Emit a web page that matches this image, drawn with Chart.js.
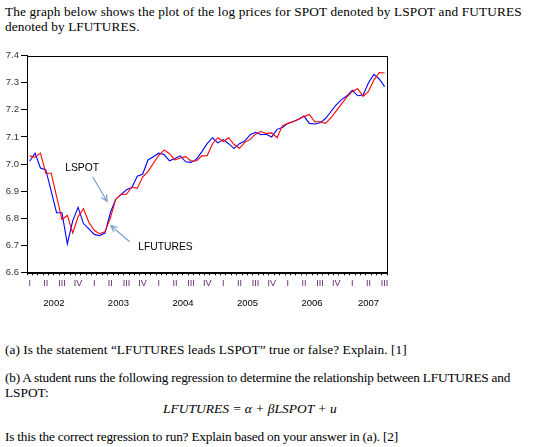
<!DOCTYPE html>
<html>
<head>
<meta charset="utf-8">
<script src="https://cdn.jsdelivr.net/npm/chart.js@4.4.1/dist/chart.umd.min.js"></script>
<style>
  body { margin: 0; background: #fff; width: 548px; height: 447px; overflow: hidden; position: relative; }
  .txt { position: absolute; left: 5px; font-family: "Liberation Serif", "Times New Roman", serif; font-size: 13.3px; color: #000; white-space: nowrap; line-height: 15px; }
  .eq { position: absolute; font-family: "Liberation Serif", serif; font-style: italic; font-size: 13.5px; white-space: nowrap; }
  #wrap { position: absolute; left: 0; top: 45px; width: 395px; height: 265px; }
</style>
</head>
<body>
<div class="txt" style="top:4px; letter-spacing:0.14px">The graph below shows the plot of the log prices for SPOT denoted by LSPOT and FUTURES</div>
<div class="txt" style="top:19px; letter-spacing:0.1px">denoted by LFUTURES.</div>
<div id="wrap"><canvas id="chart"></canvas></div>
<div class="txt" style="top:342px; letter-spacing:0.05px">(a) Is the statement “LFUTURES leads LSPOT” true or false? Explain. [1]</div>
<div class="txt" style="top:370px; letter-spacing:-0.2px">(b) A student runs the following regression to determine the relationship between LFUTURES and</div>
<div class="txt" style="top:385px">LSPOT:</div>
<div class="eq" style="left:163px; top:401px">LFUTURES = α + βLSPOT + u</div>
<div class="txt" style="top:429px; letter-spacing:-0.19px">Is this the correct regression to run? Explain based on your answer in (a). [2]</div>

<script>
// monthly data, Jan 2002 - Jul 2007
const years = [2002, 2003, 2004, 2005, 2006, 2007];
const quarterNames = ['I', 'II', 'III', 'IV'];
const monthsInLastYear = 7;

const lspot = [
  7.010, 7.040, 6.985, 6.978, 6.900, 6.820, 6.820, 6.705, 6.790, 6.840,
  6.780, 6.760, 6.740, 6.735, 6.745, 6.820, 6.870, 6.888, 6.905, 6.913,
  6.955, 6.962, 7.015, 7.027, 7.040, 7.035, 7.012, 7.020, 7.030, 7.008,
  7.006, 7.018, 7.045, 7.075, 7.097, 7.078, 7.090, 7.075, 7.057, 7.075,
  7.085, 7.108, 7.117, 7.108, 7.110, 7.100, 7.128, 7.135, 7.150, 7.157,
  7.165, 7.177, 7.150, 7.148, 7.152, 7.168, 7.193, 7.218, 7.238, 7.252,
  7.272, 7.252, 7.255, 7.300, 7.331, 7.314, 7.286
];
const lfutures = [
  7.030, 7.025, 7.040, 6.966, 6.966, 6.880, 6.795, 6.810, 6.745, 6.805,
  6.835, 6.785, 6.755, 6.742, 6.750, 6.800, 6.870, 6.888, 6.888, 6.915,
  6.910, 6.952, 6.972, 7.003, 7.032, 7.052, 7.038, 7.015, 7.022, 7.027,
  7.011, 7.011, 7.030, 7.031, 7.075, 7.097, 7.083, 7.097, 7.072, 7.058,
  7.080, 7.091, 7.110, 7.120, 7.113, 7.115, 7.097, 7.142, 7.150, 7.156,
  7.165, 7.175, 7.183, 7.156, 7.156, 7.150, 7.170, 7.196, 7.222, 7.248,
  7.268, 7.278, 7.250, 7.268, 7.310, 7.338, 7.336
];

// month labels
const months = [];
years.forEach((y, k) => {
  const n = k === years.length - 1 ? monthsInLastYear : 12;
  for (let m = 1; m <= n; m++) months.push(y + 'M' + String(m).padStart(2, '0'));
});

// where the year label sits (in month index units)
const yearTicks = years.map((y, k) => {
  const first = k * 12;
  const last = Math.min(first + 11, months.length - 1);
  return Math.min(first + 4.5, (first + last) / 2);
});

// text labels with arrows, in data units (month index, value)
const notes = [
  { text: 'LSPOT', x: 6.6, y: 6.983, from: [11.7, 6.953], to: [14.4, 6.862] },
  { text: 'LFUTURES', x: 20.2, y: 6.693, from: [18.6, 6.713], to: [15.1, 6.772] }
];

const frame = {
  id: 'frame',
  afterDatasetsDraw(chart) {
    const { ctx, chartArea: a, scales } = chart;
    ctx.save();
    ctx.strokeStyle = '#000';
    ctx.lineWidth = 1;
    ctx.strokeRect(Math.round(a.left) + 0.5, Math.round(a.top) + 0.5,
      Math.round(a.right - a.left), Math.round(a.bottom - a.top));

    ctx.font = '10.3px "Liberation Sans", Arial, sans-serif';
    ctx.fillStyle = '#000';
    ctx.textBaseline = 'middle';
    ctx.strokeStyle = '#7b9fd0';
    ctx.lineWidth = 1.2;
    notes.forEach(n => {
      ctx.fillText(n.text, scales.x.getPixelForValue(n.x), scales.y.getPixelForValue(n.y));
      const x1 = scales.x.getPixelForValue(n.from[0]), y1 = scales.y.getPixelForValue(n.from[1]);
      const x2 = scales.x.getPixelForValue(n.to[0]), y2 = scales.y.getPixelForValue(n.to[1]);
      const ang = Math.atan2(y2 - y1, x2 - x1);
      ctx.beginPath();
      ctx.moveTo(x1, y1);
      ctx.lineTo(x2, y2);
      ctx.moveTo(x2 - 7 * Math.cos(ang - 0.45), y2 - 7 * Math.sin(ang - 0.45));
      ctx.lineTo(x2, y2);
      ctx.lineTo(x2 - 7 * Math.cos(ang + 0.45), y2 - 7 * Math.sin(ang + 0.45));
      ctx.stroke();
    });
    ctx.restore();
  }
};

new Chart(document.getElementById('chart'), {
  type: 'line',
  data: {
    labels: months,
    datasets: [
      { label: 'LFUTURES', data: lfutures, borderColor: '#ff0000', borderWidth: 1.1, pointRadius: 0, tension: 0, order: 1 },
      { label: 'LSPOT', data: lspot, borderColor: '#0000ff', borderWidth: 1.1, pointRadius: 0, tension: 0, order: 2 }
    ]
  },
  options: {
    responsive: true,
    maintainAspectRatio: false,
    animation: false,
    layout: { padding: { top: 10.7, right: 7.7, left: 0, bottom: 0 } },
    plugins: { legend: { display: false }, tooltip: { enabled: false } },
    scales: {
      x: {
        type: 'category',
        offset: true,
        grid: { display: true, drawOnChartArea: false, offset: true, tickLength: 3, color: '#000' },
        border: { color: '#000' },
        ticks: {
          autoSkip: false, maxRotation: 0, padding: 3,
          color: '#5a1a6a',
          font: { family: '"Liberation Sans", Arial, sans-serif', size: 9 },
          callback: (v, i) => (i % 3 === 0 ? quarterNames[(i / 3) % 4] : '')
        },
        afterFit: s => { s.height = 16; }
      },
      yr: {
        type: 'linear',
        position: 'bottom',
        weight: 1,
        min: -0.5,
        max: months.length - 0.5,
        grid: { display: false, drawTicks: false },
        border: { display: false },
        afterBuildTicks: s => { s.ticks = yearTicks.map(v => ({ value: v })); },
        ticks: {
          autoSkip: false, maxRotation: 0, padding: 9,
          color: '#000',
          font: { family: '"Liberation Sans", Arial, sans-serif', size: 9.5 },
          callback: (v, i) => String(years[i])
        },
        afterFit: s => { s.height = 21.7; }
      },
      y: {
        min: 6.6,
        max: 7.4,
        grid: { display: true, drawOnChartArea: false, tickLength: 6, color: '#000' },
        border: { color: '#000' },
        ticks: {
          stepSize: 0.1, padding: 2,
          color: '#333',
          font: { family: '"Liberation Sans", Arial, sans-serif', size: 9.5 },
          callback: v => Number(v).toFixed(1)
        },
        afterFit: s => { s.width = 27; }
      }
    }
  },
  plugins: [frame]
});
</script>
</body>
</html>
